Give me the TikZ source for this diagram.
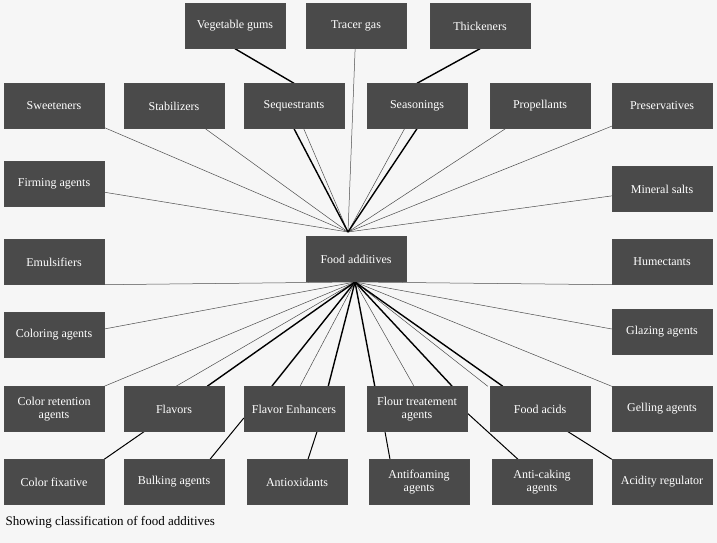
\documentclass[tikz,border=0pt]{standalone}
\usepackage{fontspec}
\setmainfont{Liberation Serif}
\usetikzlibrary{backgrounds}
\definecolor{boxc}{HTML}{4A4A4A}
\definecolor{bgc}{HTML}{F6F6F6}
\begin{document}
\begin{tikzpicture}[x=1pt,y=-1pt,
  bx/.style={draw=black!70,fill=boxc,text=white,minimum width=100pt,minimum height=45pt,inner sep=1pt,align=center,font=\fontsize{12}{13}\selectfont},
  thin line/.style={draw=black!70,line width=0.5pt},
  thick line/.style={draw=black,line width=1.4pt}]
\useasboundingbox (0,0) rectangle (717,543);
\coordinate (U) at (348,232);
\coordinate (L) at (355,282);
\node[bx] (veg) at (235,26) {Vegetable gums};
\node[bx] (tra) at (356,26) {Tracer gas};
\node[bx] (thi) at (480,26) {Thickeners};
\node[bx] (swe) at (54,106) {Sweeteners};
\node[bx] (sta) at (174,106) {Stabilizers};
\node[bx] (seq) at (294,106) {Sequestrants};
\node[bx] (sea) at (417,106) {Seasonings};
\node[bx] (pro) at (540,106) {Propellants};
\node[bx] (pre) at (662,106) {Preservatives};
\node[bx] (fir) at (54,184) {Firming agents};
\node[bx] (min) at (662,189) {Mineral salts};
\node[bx] (food) at (356,259) {Food additives};
\node[bx] (emu) at (54,262) {Emulsifiers};
\node[bx] (hum) at (662,262) {Humectants};
\node[bx] (col) at (54,335) {Coloring agents};
\node[bx] (gla) at (662,332) {Glazing agents};
\node[bx] (cre) at (54,409) {Color retention\\agents};
\node[bx] (fla) at (174,409) {Flavors};
\node[bx] (fen) at (294,409) {Flavor Enhancers};
\node[bx] (flo) at (417,409) {Flour treatement\\agents};
\node[bx] (aci) at (540,409) {Food acids};
\node[bx] (gel) at (662,409) {Gelling agents};
\node[bx] (cfi) at (54,482) {Color fixative};
\node[bx] (bul) at (174,482) {Bulking agents};
\node[bx] (ant) at (297,482) {Antioxidants};
\node[bx] (afo) at (419,482) {Antifoaming\\agents};
\node[bx] (aca) at (542,482) {Anti-caking\\agents};
\node[bx] (acr) at (662,482) {Acidity regulator};
\node[anchor=west,font=\fontsize{13}{14}\selectfont] (cap) at (2,522) {Showing classification of food additives};
\begin{scope}[on background layer]
\fill[bgc] (0,0) rectangle (717,543);
\foreach \n in {tra,swe,sta,pro,pre,fir,min}
  \draw[thin line] (U) -- (\n.center);
\draw[thin line] (U) -- (seq.center);
\draw[thin line] (U) -- (sea.center);
\draw[thick line] (U) -- (seq.south);
\draw[thick line] (U) -- (sea.south);
\draw[thin line] (L) -- (emu.south east);
\draw[thin line] (L) -- (hum.south west);
\draw[thin line] (L) -- ([yshift=6]col.east);
\draw[thin line] (L) -- ([yshift=3]gla.west);
\draw[thin line] (L) -- (cre.north east);
\draw[thin line] (L) -- (gel.north west);
\draw[thin line] (L) -- ([xshift=2]fla.north);
\draw[thick line] (L) -- ([xshift=-17]fla.north east);
\draw[thick line] (L) -- ([xshift=28]fen.north west);
\draw[thin line] (L) -- ([xshift=6]fen.north);
\draw[thick line] (L) -- ([xshift=-16]fen.north east);
\draw[thick line] (L) -- ([xshift=8]flo.north west);
\draw[thin line] (L) -- ([xshift=-3]flo.north);
\draw[thick line] (L) -- ([xshift=-15]flo.north east);
\draw[thin line] (L) -- ([xshift=-2]aci.north west);
\draw[thick line] (L) -- ([xshift=13]aci.north west);
\draw[thick line] (veg.south) -- (seq.north);
\draw[thick line] (thi.south) -- (sea.north);
\draw[line width=1pt] ([xshift=-30]fla.south) -- (cfi.north east);
\draw[line width=1pt] ([yshift=-9]fen.west) -- ([xshift=36]bul.north);
\draw[line width=1pt] ([xshift=23]fen.south) -- ([xshift=11]ant.north);
\draw[line width=1pt] ([xshift=-32]flo.south) -- ([xshift=-29]afo.north);
\draw[line width=1pt] ([yshift=-4]flo.east) -- ([xshift=-24]aca.north);
\draw[line width=1pt] ([xshift=28]aci.south) -- (acr.north west);
\end{scope}
\end{tikzpicture}
\end{document}
